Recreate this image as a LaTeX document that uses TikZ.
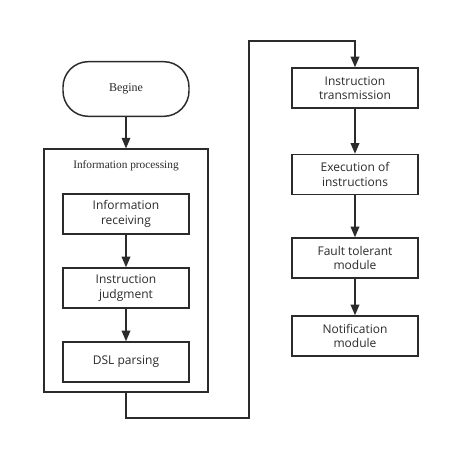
\documentclass[tikz,border=0pt]{standalone}
\usepackage{fontspec}
\setmainfont{Liberation Serif}
\newfontfamily\boxfont{Open Sans}
\usetikzlibrary{arrows.meta}
\definecolor{ink}{HTML}{2B2B2B}
\begin{document}
\begin{tikzpicture}[x=0.75pt,y=-0.75pt,
  line/.style={draw=ink,line width=1.1pt},
  arr/.style={line,-{Triangle[length=8pt,width=6.5pt]}},
  procbox/.style={line,rectangle,minimum width=94.5pt,minimum height=30pt,align=center,
     font=\boxfont\fontsize{9}{11}\selectfont,text=ink,inner sep=0pt},
  startbox/.style={line,rectangle,rounded corners=19pt,minimum width=94.5pt,minimum height=41pt,
     font=\fontsize{9}{11}\selectfont,text=ink},
  groupbox/.style={line,rectangle,minimum width=123pt,minimum height=182pt,inner sep=0pt},
  grouptitle/.style={font=\fontsize{8.5}{10}\selectfont,text=ink,inner sep=0pt}]
\useasboundingbox[fill=white] (0,0) rectangle (474,474);
\node[startbox] (begin) at (126,89) {Begine};
\node[groupbox] (group) at (126,270.5) {};
\node[grouptitle] (gtitle) at (126,166) {Information processing};
\node[procbox] (recv) at (126,214) {Information\\receiving};
\node[procbox] (judge) at (126,288) {Instruction\\judgment};
\node[procbox] (dsl) at (126,362) {DSL parsing};
\node[procbox] (trans) at (355,88) {Instruction\\transmission};
\node[procbox] (exec) at (355,174.5) {Execution of\\instructions};
\node[procbox] (fault) at (355,258) {Fault tolerant\\module};
\node[procbox] (notif) at (355,336) {Notification\\module};
\coordinate (c1) at (126,418);
\coordinate (c2) at (249,418);
\coordinate (c3) at (249,41);
\coordinate (c4) at (355,41);
\draw[arr] (begin) -- (group);
\draw[arr] (recv) -- (judge);
\draw[arr] (judge) -- (dsl);
\draw[arr] (group.south) -- (c1) -- (c2) -- (c3) -- (c4) -- (trans);
\draw[arr] (trans) -- (exec);
\draw[arr] (exec) -- (fault);
\draw[arr] (fault) -- (notif);
\end{tikzpicture}
\end{document}
